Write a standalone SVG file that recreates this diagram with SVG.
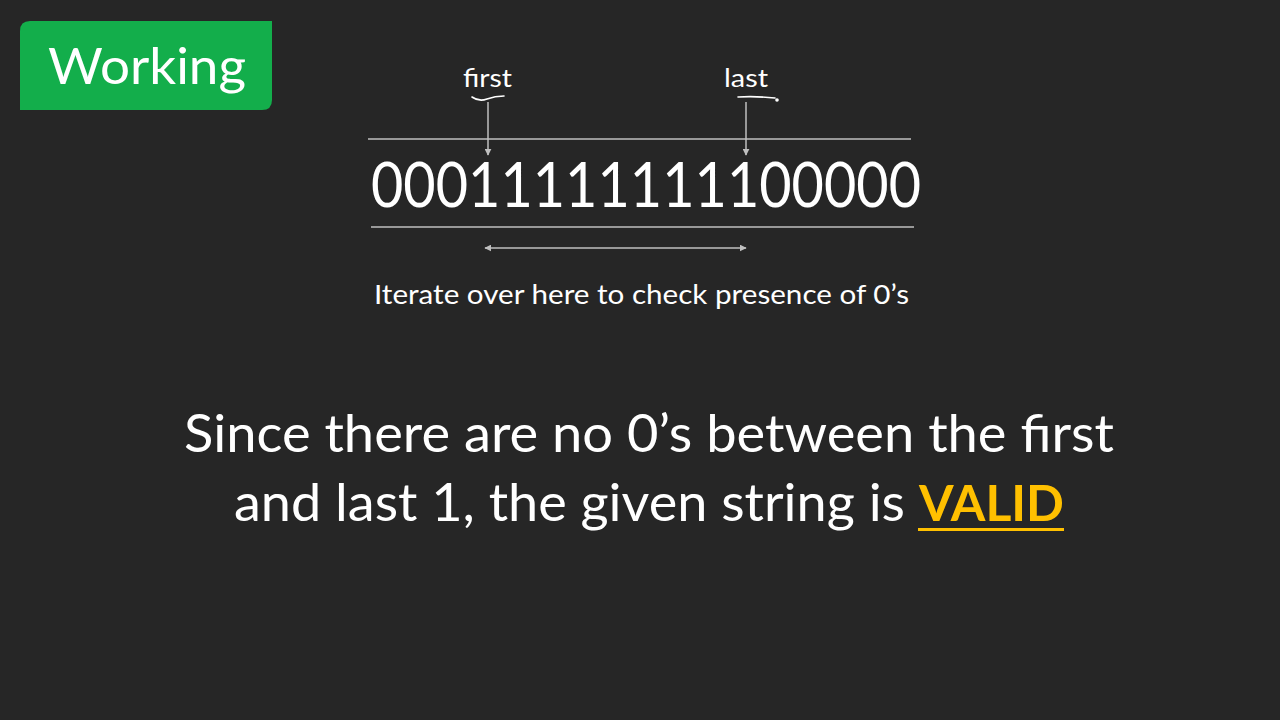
<svg xmlns="http://www.w3.org/2000/svg" width="1280" height="720" viewBox="0 0 1280 720">
<defs>
<style>
.t{font-family:Lato,"Open Sans","Liberation Sans",sans-serif;fill:#ffffff}
.ln{stroke:#bfbfbf;stroke-width:1.5;fill:none}
.hand{stroke:#ffffff;stroke-width:1.6;fill:none;stroke-linecap:round}
</style>
<marker id="ah" viewBox="0 0 10 10" refX="9" refY="5" markerWidth="7" markerHeight="7" markerUnits="userSpaceOnUse" orient="auto-start-reverse">
<path d="M0,0 L10,5 L0,10 Z" fill="#bfbfbf"/>
</marker>
</defs>
<rect width="1280" height="720" fill="#262626"/>

<g id="title">
<path d="M30,21 H272 V100 Q272,110 262,110 H20 V31 Q20,21 30,21 Z" fill="#13AE4B"/>
<text class="t" x="48" y="84" font-size="51" textLength="198" lengthAdjust="spacingAndGlyphs">Working</text>
</g>

<g id="label-first">
<text class="t" x="463" y="87" font-size="25" textLength="49" lengthAdjust="spacingAndGlyphs">first</text>
<path class="hand" d="M472,97 Q479,102 487,99 Q495,96 504,96"/>
</g>

<g id="label-last">
<text class="t" x="724" y="87" font-size="25" textLength="44" lengthAdjust="spacingAndGlyphs">last</text>
<path class="hand" d="M738,97 Q756,96 775,98"/>
<circle cx="777" cy="100" r="1.8" fill="#ffffff"/>
</g>

<g id="binary-string">
<line class="ln" x1="368" y1="139" x2="911" y2="139"/>
<text class="t" x="371" y="207" font-size="61" textLength="550" lengthAdjust="spacingAndGlyphs">00011111111100000</text>
<line class="ln" x1="371" y1="227" x2="914" y2="227"/>
</g>

<g id="caption">
<text class="t" x="374" y="304" font-size="26.5" textLength="535" lengthAdjust="spacingAndGlyphs">Iterate over here to check presence of 0’s</text>
</g>

<g id="conclusion">
<text class="t" x="184" y="452" font-size="53" textLength="930" lengthAdjust="spacingAndGlyphs">Since there are no 0’s between the first</text>
<text class="t" x="234" y="521" font-size="53" textLength="671" lengthAdjust="spacingAndGlyphs">and last 1, the given string is</text>
<text x="919" y="521" font-family="Lato,'Open Sans','Liberation Sans',sans-serif" font-weight="bold" font-size="49" fill="#FFC000" textLength="145" lengthAdjust="spacingAndGlyphs">VALID</text>
<rect x="918" y="528" width="146" height="3" fill="#FFC000"/>
</g>

<g id="connectors">
<line class="ln" x1="488" y1="102" x2="488" y2="155" marker-end="url(#ah)"/>
<line class="ln" x1="746" y1="102" x2="746" y2="155" marker-end="url(#ah)"/>
<line class="ln" x1="485" y1="248" x2="746" y2="248" marker-start="url(#ah)" marker-end="url(#ah)"/>
</g>
</svg>
